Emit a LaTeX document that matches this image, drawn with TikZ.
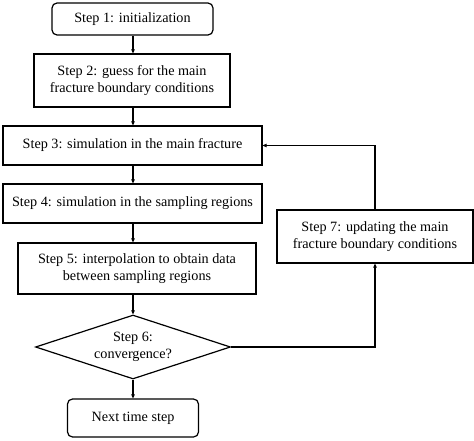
\documentclass[tikz,border=0pt]{standalone}
\usepackage{fontspec}
\setmainfont{Liberation Serif}
\usetikzlibrary{shapes.geometric,arrows.meta}
\begin{document}
\begin{tikzpicture}[x=1pt,y=1pt,
  every node/.style={font=\rmfamily\fontsize{14.2}{17.5}\selectfont, align=center, inner sep=0pt},
  box/.style={draw, line width=1.2pt},
  rbox/.style={draw, line width=1.2pt, rounded corners=5pt},
  dia/.style={draw, line width=1.2pt, diamond, aspect=3},
  arr/.style={line width=1.2pt, -{Triangle[length=4pt,width=3.5pt]}}
]
\useasboundingbox (0,0) rectangle (474,440);
\node[rbox, minimum width=161, minimum height=32] (s1) at (132.5,421) {Step 1: initialization};
\node[box, minimum width=196, minimum height=53] (s2) at (132,359.5) {Step 2: guess for the main\\fracture boundary conditions};
\node[box, minimum width=259, minimum height=39] (s3) at (132.5,294.5) {Step 3: simulation in the main fracture};
\node[box, minimum width=259, minimum height=39] (s4) at (132.5,236.5) {Step 4: simulation in the sampling regions};
\node[box, minimum width=238, minimum height=51] (s5) at (137,171.5) {Step 5: interpolation to obtain data\\between sampling regions};
\node[dia, minimum width=195, minimum height=64] (s6) at (133,93) {Step 6:\\convergence?};
\node[rbox, minimum width=131, minimum height=38] (nx) at (133,22) {Next time step};
\node[box, minimum width=196, minimum height=53] (s7) at (375,203.5) {Step 7: updating the main\\fracture boundary conditions};
\draw[arr] (s1.south -| s6.north) -- (s6.north |- s2.north);
\draw[arr] (s2.south -| s6.north) -- (s6.north |- s3.north);
\draw[arr] (s3.south -| s6.north) -- (s6.north |- s4.north);
\draw[arr] (s4.south -| s6.north) -- (s6.north |- s5.north);
\draw[arr] (s5.south -| s6.north) -- (s6.north);
\draw[arr] (s6.south) -- (nx.north);
\draw[arr] (s6.east) -| (s7.south);
\draw[arr] (s7.north) |- (s3.east);
\end{tikzpicture}
\end{document}
